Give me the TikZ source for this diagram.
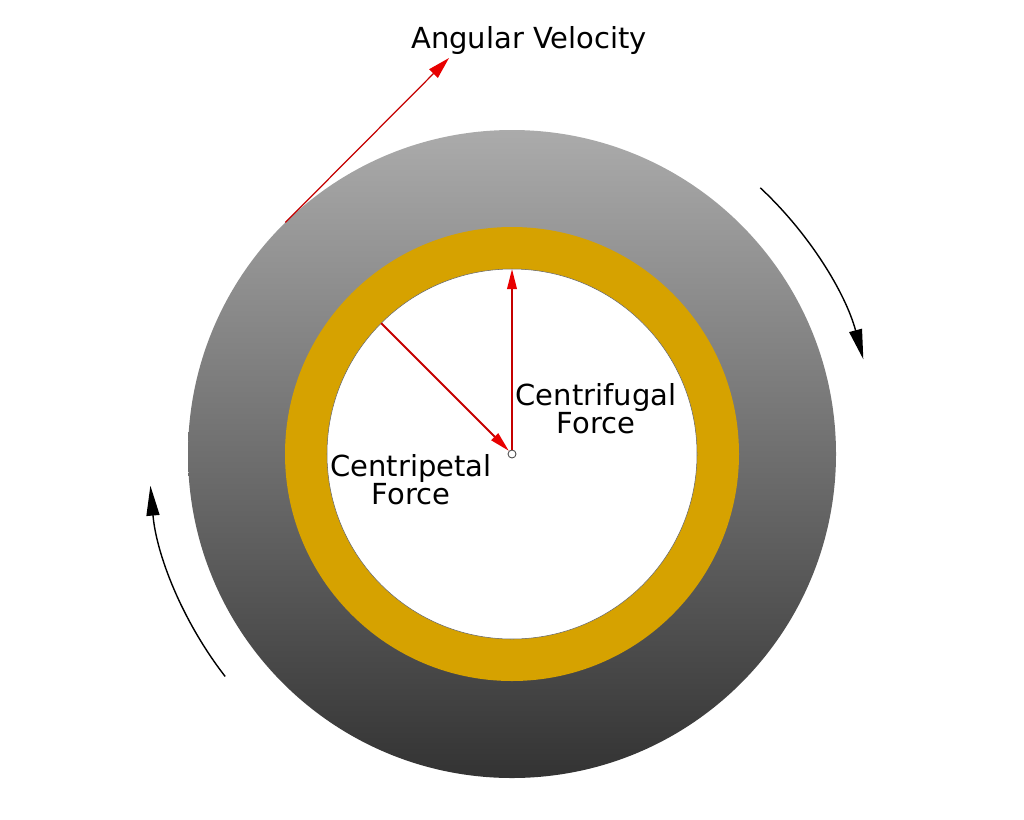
\documentclass[tikz,border=0pt]{standalone}
\usepackage{fontspec}
\setmainfont{DejaVu Sans}
\usepackage{xcolor}
\usetikzlibrary{arrows.meta, calc}

\definecolor{ringgold}{RGB}{214,162,0}
\definecolor{forcered}{RGB}{232,0,0}

\begin{document}
\begin{tikzpicture}[
        x=0.02cm, y=0.02cm,
        caption/.style = {align=center, inner sep=0pt, font=\fontsize{16.5}{16}\selectfont},
        force/.style = {draw=forcered!85!black, line width=1.1pt, -{Triangle[length=0.4cm, width=0.19cm, fill=forcered, color=forcered]}},
        spin/.style = {draw=black, line width=0.8pt, -{Triangle[length=0.6cm, width=0.26cm]}},
        hub/.style = {circle, draw=black!70, fill=white, line width=0.5pt, inner sep=0pt, minimum size=0.16cm}
      ]

      \useasboundingbox (0,0) rectangle (1024,-819);

      % ================= DISC =================
      \coordinate (O) at (512,-454);
      \shade[top color=black!33, middle color=black!62, bottom color=black!80] (O) circle[radius=324];
      \fill[ringgold] (O) circle[radius=227];
      \fill[white, draw=black!60, line width=0.3pt] (O) circle[radius=185];

      \node[hub] (hub) at (O) {};

      % ================= FORCES =================
      \coordinate (rim-top) at ($(O)+(90:185)$);
      \coordinate (rim-left) at ($(O)+(135:185)$);
      \draw[force] (hub) -- (rim-top);
      \draw[force] (rim-left) -- (hub);

      \node[caption] (centrifugal) at (596,-409) {Centrifugal\\Force};
      \node[caption] (centripetal) at (411,-480) {Centripetal\\Force};

      % ================= ROTATION =================
      \coordinate (av-foot) at ($(O)+(134.4:324)$);
      \coordinate (av-tip) at (449,-58);
      \draw[force, line width=0.7pt, -{Triangle[length=0.44cm, width=0.24cm, fill=forcered, color=forcered]}] (av-foot) -- (av-tip);
      \node[caption] (angvel) at (529,-40) {Angular Velocity};

      \coordinate (spin-r) at ($(O)+(47:364)$);
      \coordinate (spin-l) at ($(O)+(217.8:363)$);
      \draw[spin] (spin-r) arc[start angle=47, end angle=15, radius=363];
      \draw[spin] (spin-l) arc[start angle=217.8, end angle=185, radius=363];

    \end{tikzpicture}
\end{document}
